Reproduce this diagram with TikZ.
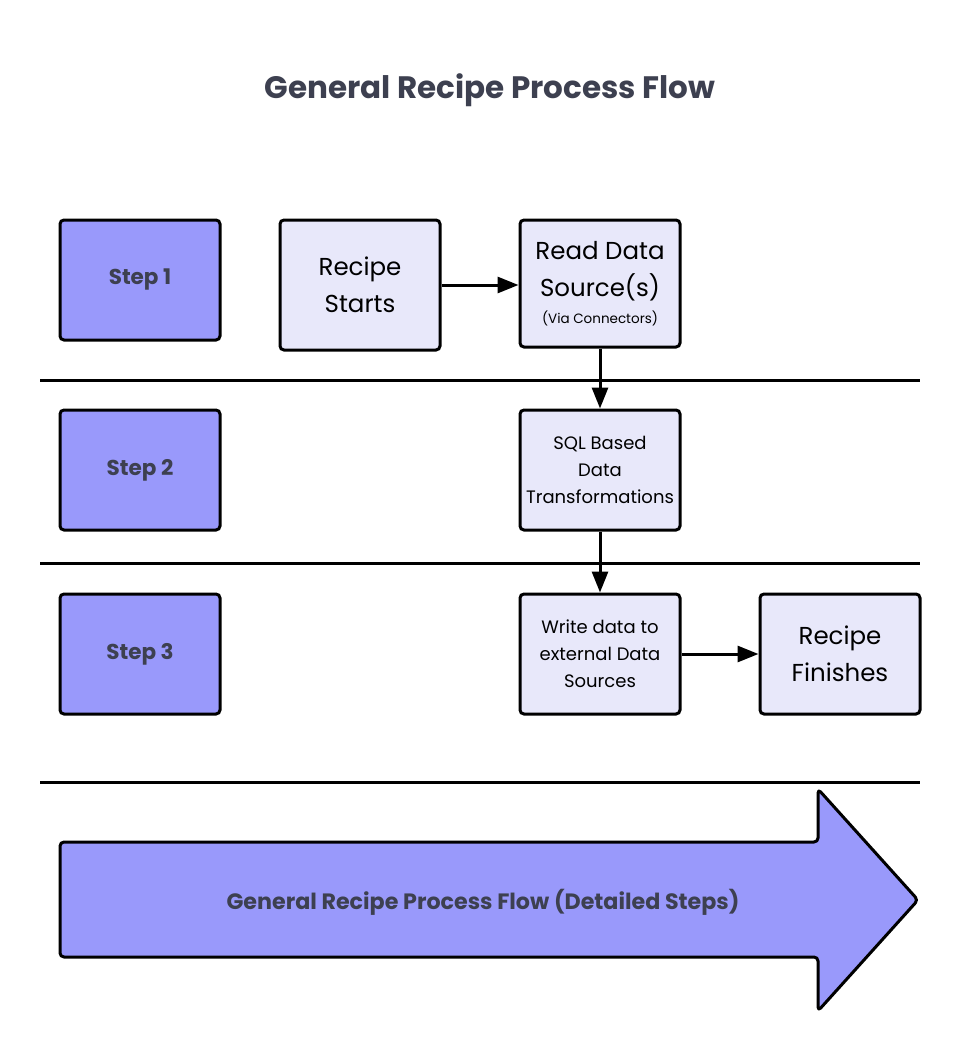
\documentclass[tikz,border=0pt]{standalone}
\usepackage{fontspec}
\setmainfont{Poppins}
\usetikzlibrary{arrows.meta}
\definecolor{stepfill}{HTML}{9999FB}
\definecolor{procfill}{HTML}{E8E8FA}
\definecolor{darktxt}{HTML}{3D4050}
\tikzset{
  stepbox/.style={draw=black, line width=3pt, rounded corners=4pt, fill=stepfill, minimum width=160pt, minimum height=120pt, inner sep=0pt, text=darktxt, font=\fontsize{21.5}{26}\selectfont\bfseries},
  procbox/.style={draw=black, line width=3pt, rounded corners=4pt, fill=procfill, minimum width=160pt, inner sep=0pt, align=center, text=black},
  bigtxt/.style={font=\fontsize{24.5}{37}\selectfont},
  midtxt/.style={font=\fontsize{18}{27}\selectfont},
  conn/.style={line width=3pt, -{Triangle[length=21pt, width=16pt]}},
  sep/.style={line width=3pt}
}
\begin{document}
\begin{tikzpicture}[x=1pt, y=-1pt]
\useasboundingbox (0,0) rectangle (960,1054);
\node[text=darktxt, font=\fontsize{31}{36}\selectfont\bfseries] (title) at (490,90) {General Recipe Process Flow};

\node[stepbox] (s1) at (140,280) {Step 1};
\node[stepbox] (s2) at (140,470) {Step 2};
\node[stepbox] (s3) at (140,654) {Step 3};

\node[procbox, bigtxt, minimum height=130pt] (start) at (360,285) {Recipe\\Starts};
\node[procbox, bigtxt, minimum height=127pt] (read) at (600,283.5) {Read Data\\Source(s)\\[-10pt]{\fontsize{13.5}{16}\selectfont (Via Connectors)}};
\node[procbox, midtxt, minimum height=120pt] (sql) at (600,470) {SQL Based\\Data\\Transformations};
\node[procbox, midtxt, minimum height=120pt] (write) at (600,654) {Write data to\\external Data\\Sources};
\node[procbox, bigtxt, minimum height=120pt] (finish) at (840,654) {Recipe\\Finishes};

\coordinate (l1a) at (40,380); \coordinate (l1b) at (920,380);
\coordinate (l2a) at (40,563); \coordinate (l2b) at (920,563);
\coordinate (l3a) at (40,782); \coordinate (l3b) at (920,782);
\draw[sep] (l1a) -- (l1b);
\draw[sep] (l2a) -- (l2b);
\draw[sep] (l3a) -- (l3b);

\draw[conn] (start.east) -- (read.west |- start.east);
\draw[conn] (read.south) -- (sql.north);
\draw[conn] (sql.south) -- (write.north);
\draw[conn] (write.east) -- (finish.west);

\draw[line width=3pt, fill=stepfill, line join=round, rounded corners=4pt]
  (60,842) -- (818,842) -- (818,789) -- (918,900) -- (818,1011) -- (818,957) -- (60,957) -- cycle;
\node[text=darktxt, font=\fontsize{22.2}{26}\selectfont\bfseries] (flow) at (483,902) {General Recipe Process Flow (Detailed Steps)};
\end{tikzpicture}
\end{document}
